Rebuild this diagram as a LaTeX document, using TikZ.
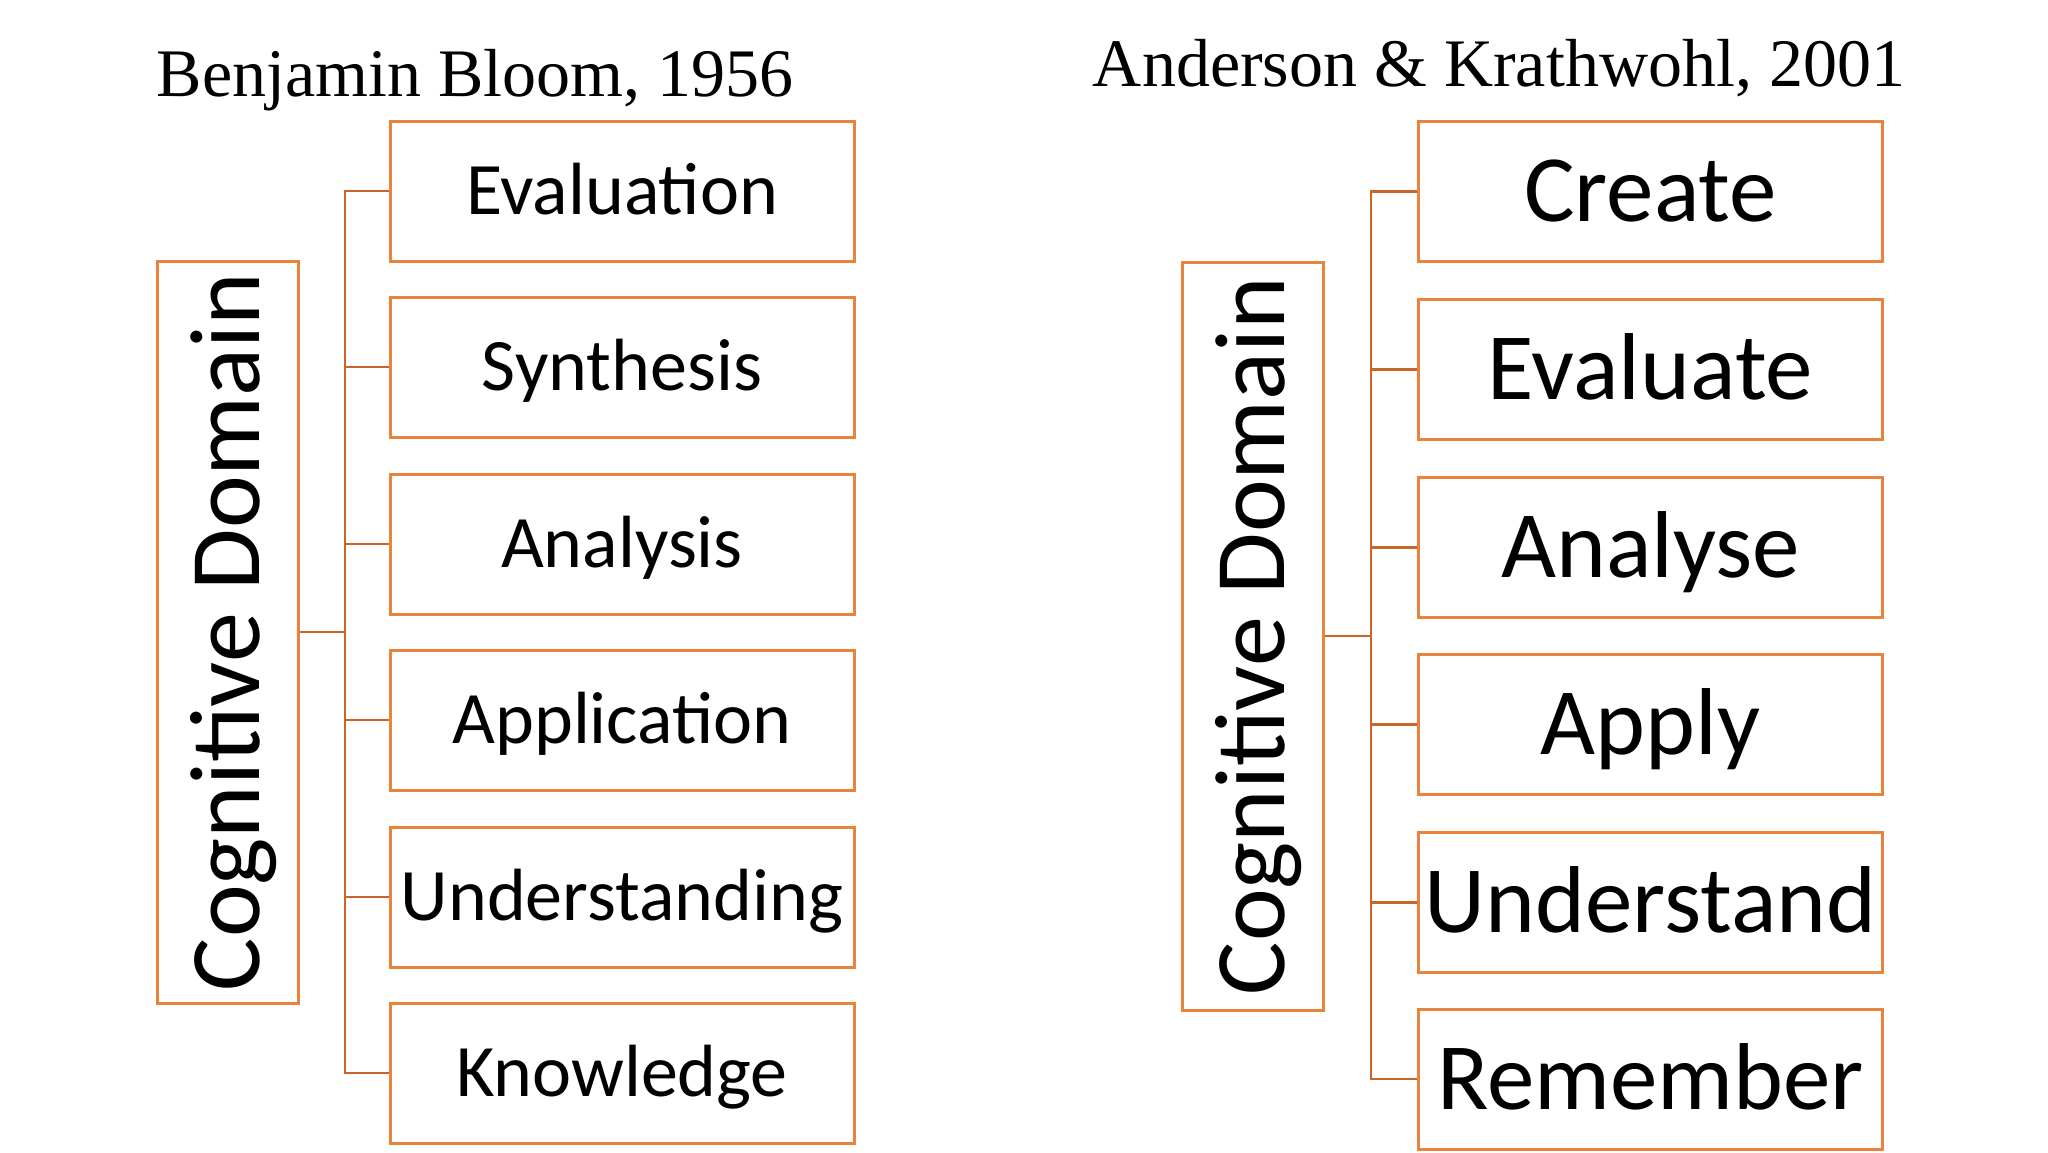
\documentclass[tikz,border=0pt]{standalone}
\usepackage{fontspec}
\setmainfont{Carlito}
\newfontfamily\titlefont{Liberation Serif}

\tikzset{every picture/.style={line width=0.75pt}}
\tikzset{
  levelbox/.style={draw={rgb, 255:red, 234; green, 132; blue, 60 }, draw opacity=1, line width=1.5,
    minimum width=232pt, minimum height=70pt, inner sep=0pt, text depth=0pt},
  oldlevel/.style={levelbox, text height=23.7pt, font=\fontsize{37}{44}\selectfont},
  newlevel/.style={levelbox, text height=30.4pt, font=\fontsize{47.5}{56}\selectfont},
  domainbox/.style={draw={rgb, 255:red, 234; green, 132; blue, 60 }, draw opacity=1, line width=1.5,
    minimum width=374pt, minimum height=70.5pt, inner sep=0pt, rotate=90, text height=32pt, text depth=0pt,
    font=\fontsize{50}{60}\selectfont},
  branch/.style={draw={rgb, 255:red, 200; green, 102; blue, 42 }, draw opacity=1, line width=1.25},
  heading/.style={anchor=base, inner sep=0pt, font=\titlefont\fontsize{34}{40}\selectfont}
}

\begin{document}
\begin{tikzpicture}[x=0.5pt,y=0.5pt,yscale=-1,xscale=1]
\useasboundingbox (0,0) rectangle (2048,1152);

% Text Node
\node (bloom) at (475,96) [heading] {Benjamin Bloom, 1956};
% Text Node
\node (anderson) at (1499,86) [heading] {Anderson \& Krathwohl, 2001};

%Shape: Rectangle
\node (domainL) at (227.5,632) [domainbox, minimum width=371pt] {Cognitive Domain};
\node (evaluation) at (622,191) [oldlevel] {Evaluation};
\node (synthesis) at (622,367) [oldlevel] {Synthesis};
\node (analysis) at (622,544) [oldlevel] {Analysis};
\node (application) at (622,720) [oldlevel] {Application};
\node (understanding) at (622,897) [oldlevel] {Understanding};
\node (knowledge) at (622,1073) [oldlevel] {Knowledge};

%Shape: Rectangle
\node (domainR) at (1252.5,636) [domainbox] {Cognitive Domain};
\node (create) at (1650.5,191.5) [newlevel] {Create};
\node (evaluate) at (1650.5,369.5) [newlevel] {Evaluate};
\node (analyse) at (1650.5,547.5) [newlevel] {Analyse};
\node (apply) at (1650.5,724.5) [newlevel] {Apply};
\node (understand) at (1650.5,902.5) [newlevel] {Understand};
\node (remember) at (1650.5,1079) [newlevel] {Remember};

% Straight Lines
\coordinate (trunkL) at (345,632);
\draw [branch] (domainL.south) -- (trunkL);
\foreach \lvl in {evaluation,synthesis,analysis,application,understanding,knowledge}
  \draw [branch] (\lvl.west) -| (trunkL);

\coordinate (trunkR) at (1371,636);
\draw [branch] (domainR.south) -- (trunkR);
\foreach \lvl in {create,evaluate,analyse,apply,understand,remember}
  \draw [branch] (\lvl.west) -| (trunkR);
\end{tikzpicture}
\end{document}
